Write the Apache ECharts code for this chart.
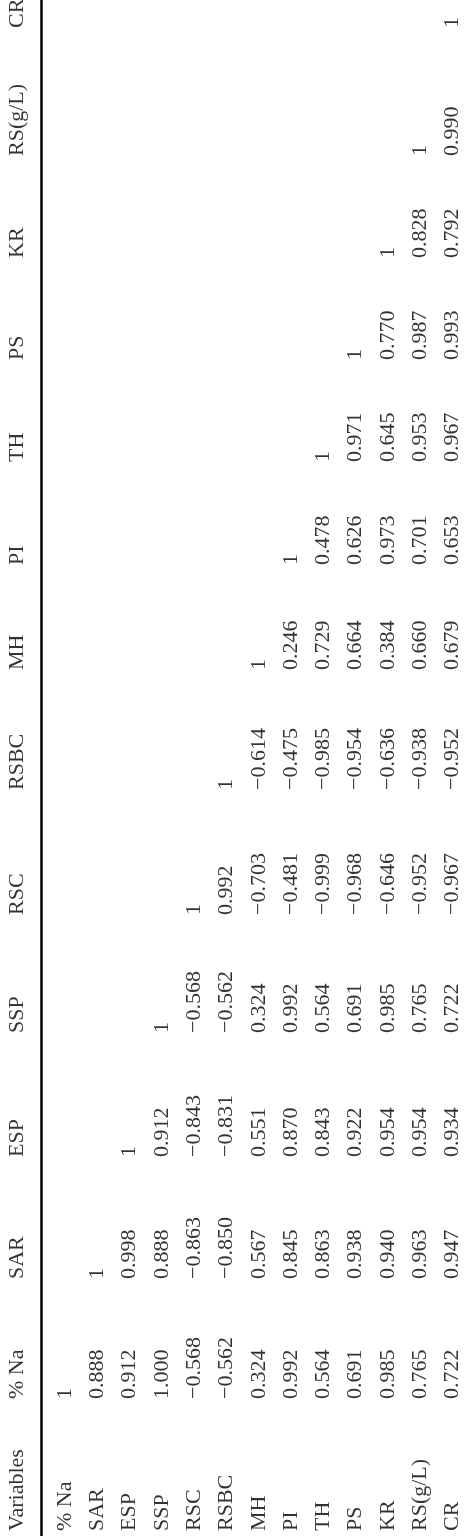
<!DOCTYPE html>
<html><head><meta charset="utf-8">
<script src="https://cdn.jsdelivr.net/npm/echarts@6/dist/echarts.min.js"></script>
<style>html,body{margin:0;padding:0;background:#fff}#c{width:474px;height:1536px}</style>
</head><body><div id="c"></div>
<script>
const headerTitle = 'Variables';
const variables = ['% Na','SAR','ESP','SSP','RSC','RSBC','MH','PI','TH','PS','KR','RS(g/L)','CR'];
const rowNa   = ['1'];
const rowSAR  = ['0.888','1'];
const rowESP  = ['0.912','0.998','1'];
const rowSSP  = ['1.000','0.888','0.912','1'];
const rowRSC  = ['-0.568','-0.863','-0.843','-0.568','1'];
const rowRSBC = ['-0.562','-0.850','-0.831','-0.562','0.992','1'];
const rowMH   = ['0.324','0.567','0.551','0.324','-0.703','-0.614','1'];
const rowPI   = ['0.992','0.845','0.870','0.992','-0.481','-0.475','0.246','1'];
const rowTH   = ['0.564','0.863','0.843','0.564','-0.999','-0.985','0.729','0.478','1'];
const rowPS   = ['0.691','0.938','0.922','0.691','-0.968','-0.954','0.664','0.626','0.971','1'];
const rowKR   = ['0.985','0.940','0.954','0.985','-0.646','-0.636','0.384','0.973','0.645','0.770','1'];
const rowRS   = ['0.765','0.963','0.954','0.765','-0.952','-0.938','0.660','0.701','0.953','0.987','0.828','1'];
const rowCR   = ['0.722','0.947','0.934','0.722','-0.967','-0.952','0.679','0.653','0.967','0.993','0.792','0.990','1'];
const matrix = [rowNa,rowSAR,rowESP,rowSSP,rowRSC,rowRSBC,rowMH,rowPI,rowTH,rowPS,rowKR,rowRS,rowCR];

// layout (table geometry on the page)
const colStart = [1531,1399,1279,1157,1033,915,790,670,565,462,360,258,156,28];
const headerX = 17;
const rowPos = i => 65 + i * 32.3;

const pts = [];
pts.push([headerX, colStart[0], headerTitle]);
variables.forEach((v,j)=>pts.push([headerX, colStart[j+1], v]));
matrix.forEach((row,i)=>{
  pts.push([rowPos(i), colStart[0], variables[i]]);
  row.forEach((val,j)=>pts.push([rowPos(i), colStart[j+1], val.replace('-', '\u2212')]));
});

const chart = echarts.init(document.getElementById('c'));
chart.setOption({
  animation:false,
  grid:{left:0,right:0,top:0,bottom:0},
  xAxis:{type:'value',min:0,max:474,show:false},
  yAxis:{type:'value',min:0,max:1536,inverse:true,show:false},
  series:[{
    type:'scatter', symbolSize:0, data:pts,
    label:{show:true,position:'inside',rotate:90,align:'left',verticalAlign:'middle',
      formatter:p=>p.data[2],fontFamily:'Liberation Serif',fontSize:22,color:'#000'},
    markLine:{silent:true,symbol:'none',label:{show:false},
      lineStyle:{color:'#000',width:2.5,type:'solid'},
      data:[{xAxis:41}]}
  }]
});
</script></body></html>
